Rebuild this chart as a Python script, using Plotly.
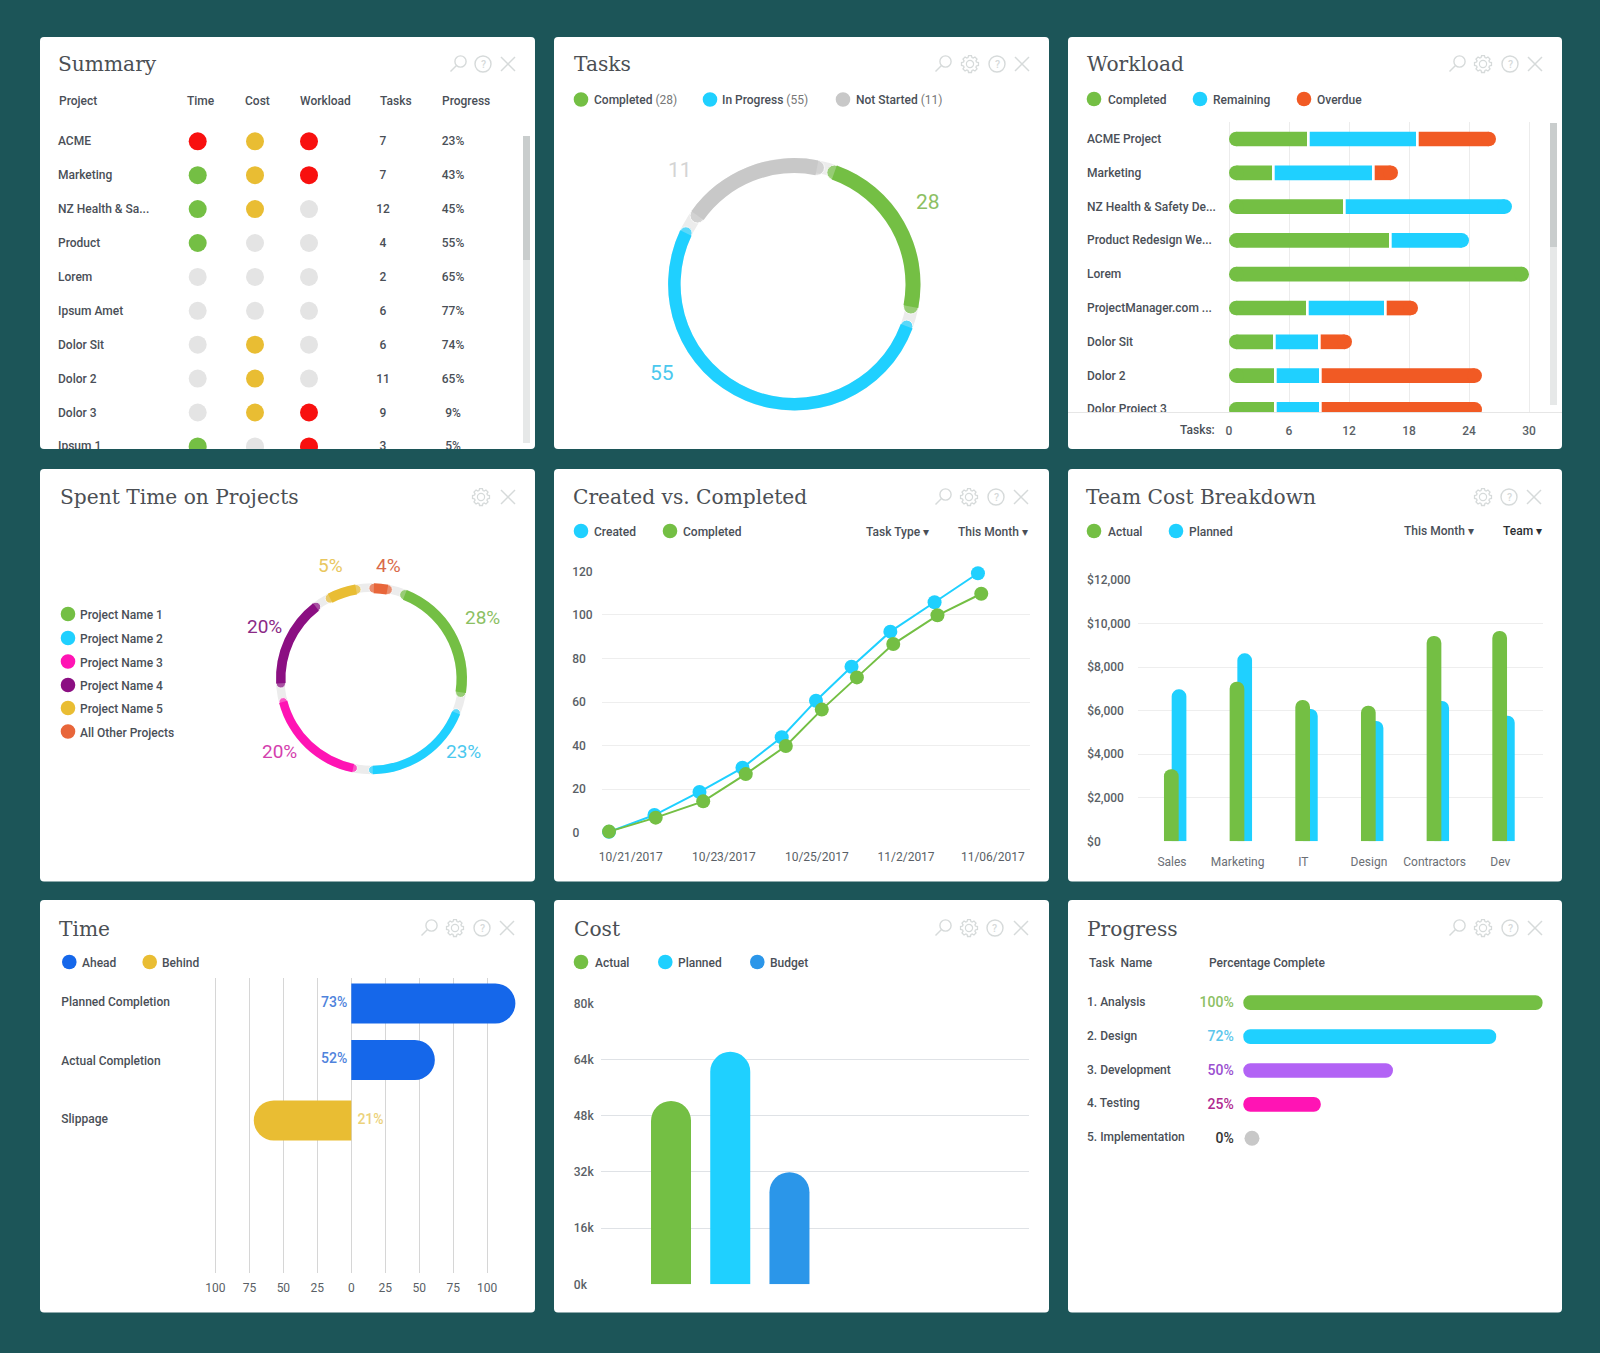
import math
import plotly.graph_objects as go

# ---------- data ----------
summary_projects = ["ACME", "Marketing", "NZ Health & Sa...", "Product", "Lorem", "Ipsum Amet",
                    "Dolor Sit", "Dolor 2", "Dolor 3", "Ipsum 1"]
summary_time = ["red", "green", "green", "green", "none", "none", "none", "none", "none", "green"]
summary_cost = ["yellow", "yellow", "yellow", "none", "none", "none", "yellow", "yellow", "yellow", "none"]
summary_workload = ["red", "red", "none", "none", "none", "none", "none", "none", "red", "red"]
summary_tasks = [7, 7, 12, 4, 2, 6, 6, 11, 9, 3]
summary_progress = ["23%", "43%", "45%", "55%", "65%", "77%", "74%", "65%", "9%", "5%"]

# the arcs drawn in the picture are not proportional to their labels, so spans are read as degrees
task_counts = [28, 55, 11]
task_names = ["Completed", "In Progress", "Not Started"]
task_arcs = [81.1, 184.8, 65.6]
task_gaps = [9.7, 10.1, 8.7]

workload_projects = ["ACME Project", "Marketing", "NZ Health & Safety De...", "Product Redesign We...", "Lorem",
                     "ProjectManager.com ...", "Dolor Sit", "Dolor 2", "Dolor Project 3"]
workload_completed = [7.8, 4.3, 11.4, 16.0, 30.0, 7.7, 4.4, 4.5, 4.5]
workload_remaining = [10.9, 10.0, 16.9, 8.0, 0.0, 7.8, 4.5, 4.5, 4.5]
workload_overdue = [8.0, 2.6, 0.0, 0.0, 0.0, 3.4, 3.4, 16.3, 16.3]

spent_names = ["Project Name 1", "Project Name 2", "Project Name 3", "Project Name 4", "Project Name 5",
               "All Other Projects"]
spent_labels = ["28%", "23%", "20%", "20%", "5%", "4%"]
spent_arcs = [76.9, 67.2, 63.7, 55.2, 17.4, 8.6]
spent_gaps = [13.4, 12.4, 11.8, 10.5, 11.3, 11.6]

created_x = [0, 1.10, 2.19, 3.23, 4.18, 5.01, 5.87, 6.81, 7.88, 8.93]
created_y = [0.4, 8.1, 18.7, 29.8, 43.8, 60.6, 76.2, 92.3, 105.8, 119.1]
completed_x = [0, 1.13, 2.28, 3.31, 4.28, 5.15, 6.00, 6.88, 7.95, 9.01]
completed_y = [0.5, 6.9, 14.4, 26.9, 39.8, 56.5, 71.3, 86.6, 99.8, 109.7]
date_tick_pos = [0.525, 2.78, 5.03, 7.19, 9.29]
date_tick_labels = ["10/21/2017", "10/23/2017", "10/25/2017", "11/2/2017", "11/06/2017"]
created_ticks = [0, 20, 40, 60, 80, 100, 120]

team_categories = ["Sales", "Marketing", "IT", "Design", "Contractors", "Dev"]
team_actual = [3306, 7331, 6489, 6229, 9428, 9657]
team_planned = [6979, 8632, 6076, 5525, 6443, 5770]
team_ticks = [0, 2000, 4000, 6000, 8000, 10000, 12000]

time_rows = ["Planned Completion", "Actual Completion", "Slippage"]
time_labels = ["73%", "52%", "21%"]
time_bars = [120.8, 61.5, -71.8]
time_bar_rows = [0.02, 0.99, 2.03]
time_ticks = [-100, -75, -50, -25, 0, 25, 50, 75, 100]

cost_categories = ["Actual", "Planned", "Budget"]
cost_values = [52.2, 66.2, 31.9]
cost_ticks = [0, 16, 32, 48, 64, 80]

progress_tasks = ["1. Analysis", "2. Design", "3. Development", "4. Testing", "5. Implementation"]
progress_labels = ["100%", "72%", "50%", "25%", "0%"]
progress_bars = [100, 84.5, 50, 25.9, 0]

# ---------- styling ----------
W, H = 1600, 1353
BG = "#1c5558"
GREEN, CYAN, ORANGE, RED, YELLOW = "#74bf44", "#1fd0ff", "#f15a24", "#f8100f", "#e9bd33"
GREY, LIGHT, PINK, PURPLE, OTHER = "#c8c8c8", "#e4e4e4", "#ff14b4", "#8b0f82", "#e8663a"
BLUE, BUDGET, VIOLET = "#1567ea", "#2b96e9", "#b263f5"
TXT = "#4a4f57"
ICON = "#d6dada"
FS = "\u2007"
BODY = "Roboto"
SLAB = "DejaVu Serif"
STATUS = {"red": RED, "green": GREEN, "yellow": YELLOW, "none": LIGHT}

shapes, annotations, layout = [], [], {}
fig = go.Figure()


def px(x, y):
    return f"{x / W:.5f},{1 - y / H:.5f}"


def panel(x0, y0, x1, y1, r=4):
    path = (f"M {px(x0 + r, y0)} L {px(x1 - r, y0)} Q {px(x1, y0)} {px(x1, y0 + r)} "
            f"L {px(x1, y1 - r)} Q {px(x1, y1)} {px(x1 - r, y1)} L {px(x0 + r, y1)} "
            f"Q {px(x0, y1)} {px(x0, y1 - r)} L {px(x0, y0 + r)} Q {px(x0, y0)} {px(x0 + r, y0)} Z")
    shapes.append(dict(type="path", layer="below", xref="paper", yref="paper", path=path, fillcolor="white",
                       line_width=0))


def circle(cx, cy, r, fill=None, line=None, lw=0):
    shapes.append(dict(type="circle", layer="below", xref="paper", yref="paper", x0=(cx - r) / W, x1=(cx + r) / W,
                       y0=1 - (cy + r) / H, y1=1 - (cy - r) / H, fillcolor=fill or "rgba(0,0,0,0)",
                       line=dict(color=line or "rgba(0,0,0,0)", width=lw)))


def seg(x0, y0, x1, y1, color=ICON, lw=1.4):
    shapes.append(dict(type="line", layer="below", xref="paper", yref="paper", x0=x0 / W, x1=x1 / W, y0=1 - y0 / H,
                       y1=1 - y1 / H, line=dict(color=color, width=lw)))


def rect(x0, y0, x1, y1, color):
    shapes.append(dict(type="rect", layer="below", xref="paper", yref="paper", x0=x0 / W, x1=x1 / W, y0=1 - y1 / H,
                       y1=1 - y0 / H, fillcolor=color, line_width=0))


def text(x, y, s, anchor="left", size=12, color=TXT, weight=500, family=BODY):
    annotations.append(dict(xref="paper", yref="paper", x=x / W, y=1 - (y + 1) / H, text=s, showarrow=False,
                            xanchor=anchor, yanchor="middle", borderpad=0,
                            font=dict(family=family, size=size, color=color, weight=weight)))


def title(x, y, s):
    text(x - 1.5, y, s, size=20.2, color="#4b4f54", weight=400, family=SLAB)


def legend(x, y, color, tx, s):
    circle(x, y, 7.3, fill=color)
    text(tx, y, s)


def magnifier(x, y):
    circle(x + 2.5, y - 2.5, 5.6, line=ICON, lw=1.4)
    seg(x - 1.5, y + 1.5, x - 7.5, y + 7.5)


def gear(x, y):
    pts = []
    for k in range(8):
        a = k * math.pi / 4
        for da, r in ((-0.30, 6.7), (-0.17, 8.6), (0.17, 8.6), (0.30, 6.7)):
            pts.append(px(x + r * math.sin(a + da), y - r * math.cos(a + da)))
    shapes.append(dict(type="path", layer="below", xref="paper", yref="paper", path="M " + " L ".join(pts) + " Z",
                       line=dict(color=ICON, width=1.3), fillcolor="rgba(0,0,0,0)"))
    circle(x, y, 3.6, line=ICON, lw=1.2)


def question(x, y):
    circle(x, y, 8, line=ICON, lw=1.4)
    text(x, y - 1, "?", anchor="center", size=10.5, color=ICON)


def close(x, y):
    seg(x - 7, y - 7, x + 7, y + 7, lw=1.5)
    seg(x - 7, y + 7, x + 7, y - 7, lw=1.5)


def icons(y, mag=None, gr=None, qu=None, cl=None):
    if mag is not None:
        magnifier(mag, y)
    if gr is not None:
        gear(gr, y)
    if qu is not None:
        question(qu, y)
    if cl is not None:
        close(cl, y)


def cart(n, x0, x1, ytop, ybot, xr, yr, xopts=None, yopts=None):
    base = dict(showgrid=False, zeroline=False, showticklabels=False, ticks="", fixedrange=True, automargin=False)
    layout[f"xaxis{n}"] = {**base, "domain": [x0 / W, x1 / W], "range": xr, "anchor": f"y{n}", **(xopts or {})}
    layout[f"yaxis{n}"] = {**base, "domain": [1 - ybot / H, 1 - ytop / H], "range": yr, "anchor": f"x{n}",
                           **(yopts or {})}


def rows_range(ytop, ybot, y0, dy):
    return [(ybot - y0) / dy, (ytop - y0) / dy]


def tickfont(color="#5a5f66", weight=400):
    return dict(family=BODY, size=12, color=color, weight=weight)


def ring(n, cx, cy, outer, thicks, arcs, gaps, colors, start):
    track = min(thicks)
    circle(cx, cy, outer - track / 2, line="#ececec", lw=track)
    dom = dict(x=[(cx - outer) / W, (cx + outer) / W], y=[1 - (cy + outer) / H, 1 - (cy - outer) / H])
    layout[f"polar{n}"] = dict(domain=dom, bgcolor="rgba(0,0,0,0)",
                               radialaxis=dict(visible=False, range=[0, outer]),
                               angularaxis=dict(visible=False, direction="clockwise", rotation=90))
    th, rad, col, sz, a = [], [], [], [], start
    for arc, gap, c, t in zip(arcs, gaps, colors, thicks):
        th += [a, a + arc]
        rad += [outer - t / 2] * 2
        col += [c, c]
        sz += [t, t]
        a += arc + gap
    fig.add_trace(go.Scatterpolar(r=rad, theta=th, mode="markers", subplot=f"polar{n}",
                                  marker=dict(size=sz, color=col), hoverinfo="skip", cliponaxis=False))
    values = []
    for arc, gap in zip(arcs, gaps):
        values += [arc, gap]
    for k, (c, t) in enumerate(zip(colors, thicks)):
        slice_colors = ["rgba(0,0,0,0)"] * len(values)
        slice_colors[2 * k] = c
        fig.add_trace(go.Pie(values=values, sort=False, direction="clockwise", rotation=start, hole=(outer - t) / outer,
                             domain=dom, marker=dict(colors=slice_colors, line=dict(width=0)), textinfo="none",
                             hoverinfo="skip", showlegend=False))


# ---------- panels ----------
COLS = [(40, 535), (554, 1049), (1068, 1562)]
ROWS = [(37, 449), (469, 881.5), (900, 1312.5)]
for (ya, yb) in ROWS:
    for (xa, xb) in COLS:
        panel(xa, ya, xb, yb)

# ---------- Summary ----------
title(58, 63, "Summary")
icons(64, mag=458, qu=483, cl=508)
for x, s, a in [(58, "Project", "left"), (201, "Time", "center"), (257, "Cost", "center"),
                (325, "Workload", "center"), (396, "Tasks", "center"), (466, "Progress", "center")]:
    text(x, 100, s, anchor=a)
rect(523, 136, 530, 443, "#e6e8e8")
rect(523, 136, 530, 260, "#c9cdcd")
cart(1, 40, 522, 120, 449, [40, 522], rows_range(120, 449, 141.3, 33.9))
rows = list(range(len(summary_projects)))
text_rows = [r + 0.03 for r in rows]
for col_x, status in [(197.7, summary_time), (255, summary_cost), (309, summary_workload)]:
    fig.add_trace(go.Scatter(x=[col_x] * len(rows), y=rows, mode="markers", xaxis="x1", yaxis="y1", hoverinfo="skip",
                             marker=dict(size=18, color=[STATUS[s] for s in status])))
for col_x, vals, pos in [(58, summary_projects, "middle right"), (383, summary_tasks, "middle center"),
                         (453, summary_progress, "middle center")]:
    fig.add_trace(go.Scatter(x=[col_x] * len(rows), y=text_rows, mode="text", text=vals, textposition=pos, xaxis="x1",
                             yaxis="y1", hoverinfo="skip", textfont=dict(family=BODY, size=12, color=TXT, weight=500)))

# ---------- Tasks ----------
title(574, 63, "Tasks")
icons(64, mag=943, gr=970, qu=997, cl=1022)
for dx, tx, c, name, n in zip([581, 710, 843], [593, 721, 855], [GREEN, CYAN, GREY], task_names, task_counts):
    legend(dx, 99.5, c, tx, f'{name} <span style="color:#777;font-weight:400">({n})</span>')
ring("", 794.3, 284.3, 126.2, [15, 12.5, 15], task_arcs, task_gaps, [GREEN, CYAN, GREY], 19.7)
for (x, y), n, c in zip([(928, 201), (662, 372), (680, 169)], task_counts, ["#8cc063", "#4bc8ee", "#d4d4d4"]):
    text(x, y, str(n), anchor="center", size=21, color=c, weight=400)

# ---------- Workload ----------
title(1087, 63, "Workload")
icons(64, mag=1457, gr=1483, qu=1510, cl=1535)
legend(1094, 99, GREEN, 1107, "Completed")
legend(1200, 99, CYAN, 1212, "Remaining")
legend(1304, 99, ORANGE, 1316, "Overdue")
rect(1550, 123, 1557, 405, "#e6e8e8")
rect(1550, 123, 1557, 247, "#c9cdcd")
WL_GAP = 0.27
WL_PX = 14.7
WL_W = WL_PX / 33.8
WL_CAP = WL_PX / 2 / 10   # cap radius in axis units (the axis runs at 10 px per task)
wl_rows = list(range(len(workload_projects)))
cart(3, 1068, 1562, 122, 412, [-16.1, 33.3], rows_range(122, 412, 139, 33.8),
     xopts=dict(showgrid=True, gridcolor="#ececec", gridwidth=1, tickvals=[0, 6, 12, 18, 24, 30],
                showticklabels=True, tickfont=tickfont(weight=500), ticklabelstandoff=8,
                showline=True, linecolor="#e6e6e6", linewidth=1))
text(1216, 429, "Tasks:", anchor="right")


def hbar(x, base, y, color, xa, ya, width, radius=0):
    fig.add_trace(go.Bar(x=x, base=base, y=y, orientation="h", xaxis=xa, yaxis=ya, width=width, hoverinfo="skip",
                         marker=dict(color=color, line_width=0, cornerradius=radius)))


def caps(xs, ys, color):
    fig.add_trace(go.Scatter(x=xs, y=ys, mode="markers", xaxis="x3", yaxis="y3", hoverinfo="skip",
                             marker=dict(size=WL_PX, color=color, line_width=0)))


mid = [i for i in wl_rows if workload_remaining[i] > 0 and workload_overdue[i] > 0]
end = [i for i in wl_rows if workload_remaining[i] > 0 and workload_overdue[i] == 0]
alone = [i for i in wl_rows if workload_remaining[i] == 0 and workload_overdue[i] == 0]
# completed: round start always, round finish only when nothing follows it
green_len = [workload_completed[i] - WL_CAP - (WL_CAP if i in alone else 0) for i in wl_rows]
hbar(green_len, [WL_CAP] * len(wl_rows), wl_rows, GREEN, "x3", "y3", WL_W)
caps([WL_CAP] * len(wl_rows), wl_rows, GREEN)
caps([workload_completed[i] - WL_CAP for i in alone], alone, GREEN)
# remaining: square on the left, round on the right only when it ends the row
rem_start = [c + WL_GAP for c in workload_completed]
rem_len = [r - WL_GAP for r in workload_remaining]
hbar([rem_len[i] for i in mid], [rem_start[i] for i in mid], mid, CYAN, "x3", "y3", WL_W)
hbar([rem_len[i] - WL_CAP for i in end], [rem_start[i] for i in end], end, CYAN, "x3", "y3", WL_W)
caps([rem_start[i] + rem_len[i] - WL_CAP for i in end], end, CYAN)
# overdue: square on the left, round on the right
over_start = [c + r + WL_GAP for c, r in zip(workload_completed, workload_remaining)]
over_len = [o - WL_GAP for o in workload_overdue]
hbar([over_len[i] - WL_CAP for i in mid], [over_start[i] for i in mid], mid, ORANGE, "x3", "y3", WL_W)
caps([over_start[i] + over_len[i] - WL_CAP for i in mid], mid, ORANGE)
fig.add_trace(go.Scatter(x=[(1087 - 1229) / 10] * len(wl_rows), y=[r + 0.03 for r in wl_rows], text=workload_projects,
                         mode="text", textposition="middle right", xaxis="x3", yaxis="y3", hoverinfo="skip",
                         textfont=dict(family=BODY, size=12, color=TXT, weight=500)))

# ---------- Spent Time on Projects ----------
title(60, 496, "Spent Time on Projects")
icons(497, gr=481, cl=508)
spent_colors = [GREEN, CYAN, PINK, PURPLE, YELLOW, OTHER]
for y, name, c in zip([614, 638, 661.5, 685, 708, 731.5], spent_names, spent_colors):
    legend(68, y, c, 79, name)
ring("2", 371.5, 678.7, 95.5, [10.5, 8.5, 8.5, 9.5, 10, 10], spent_arcs, spent_gaps, spent_colors, 21.7)
for (x, y), s, c in zip([(482, 616), (464, 750), (279, 750), (264, 625), (330, 564), (388, 564)], spent_labels,
                        ["#8cc063", "#4bc8ee", "#d43fae", "#8b2a86", "#e9c75e", "#d9694a"]):
    text(x, y, s, anchor="center", size=19, color=c, weight=400)

# ---------- Created vs. Completed ----------
title(573, 496, "Created vs. Completed")
icons(497, mag=943, gr=969, qu=996, cl=1021)
legend(581, 531, CYAN, 593, "Created")
legend(670, 531, GREEN, 682, "Completed")
text(930, 531, "Task Type ▾", anchor="right")
text(1029, 531, "This Month ▾", anchor="right")
cart(5, 601.7, 1030, 571.3, 832.7, [-0.177, 10.19], [0, 120],
     xopts=dict(tickvals=date_tick_pos, ticktext=date_tick_labels, showticklabels=True, tickfont=tickfont(),
                ticklabelstandoff=15),
     yopts=dict(tickvals=created_ticks, ticktext=[str(v) + FS * (3 - len(str(v))) for v in created_ticks],
                showticklabels=True, showgrid=True, gridcolor="#eeeeee", tickfont=tickfont(weight=500),
                ticklabelstandoff=8))
for xs, ys, c in [(created_x, created_y, CYAN), (completed_x, completed_y, GREEN)]:
    fig.add_trace(go.Scatter(x=xs, y=ys, mode="lines+markers", xaxis="x5", yaxis="y5", hoverinfo="skip",
                             cliponaxis=False, line=dict(color=c, width=2), marker=dict(color=c, size=14)))

# ---------- Team Cost Breakdown ----------
title(1086, 496, "Team Cost Breakdown")
icons(497, gr=1483, qu=1509, cl=1534)
legend(1094, 531, GREEN, 1107, "Actual")
legend(1176, 531, CYAN, 1188, "Planned")
text(1475, 530, "This Month ▾", anchor="right")
text(1543, 530, "Team ▾", anchor="right", color="#2b2f33")
TEAM_SCALE = 65.66
team_labels = [f"${v:,}" for v in team_ticks]
team_padded = [team_labels[0] + FS * 4 + "\u00a0"] + [s + FS * (7 - len(s)) for s in team_labels[1:]]
cart(6, 1137.7, 1543, 580, 841.3, [-0.522, 5.65], [0, 12000],
     xopts=dict(type="category", categoryorder="array", categoryarray=team_categories, showticklabels=True,
                tickfont=tickfont("#6b6f75"), ticklabelstandoff=12),
     yopts=dict(tickvals=team_ticks, ticktext=team_padded, showticklabels=True, showgrid=True, gridcolor="#eeeeee",
                tickfont=tickfont(weight=500), ticklabelstandoff=6))
for vals, c, off in [(team_planned, CYAN, -0.3), (team_actual, GREEN, -8.0)]:
    fig.add_trace(go.Bar(x=team_categories, y=vals, xaxis="x6", yaxis="y6", width=14.7 / TEAM_SCALE,
                         offset=off / TEAM_SCALE, hoverinfo="skip", marker=dict(color=c, line_width=0, cornerradius=7.3)))

# ---------- Time ----------
title(59, 928, "Time")
icons(928, mag=429, gr=455, qu=482, cl=507)
legend(69.3, 962, BLUE, 81, "Ahead")
legend(149.7, 962, YELLOW, 161.3, "Behind")
T_SCALE = 33.96 / 25
cart(7, 40, 530, 977.7, 1273.3, [(40 - 351.3) / T_SCALE, (530 - 351.3) / T_SCALE],
     rows_range(977.7, 1273.3, 1002.3, 58.2),
     xopts=dict(tickvals=time_ticks, ticktext=[str(abs(v)) for v in time_ticks], showticklabels=True,
                showgrid=True, gridcolor="#d6d6d6", tickfont=tickfont(), ticklabelstandoff=6))
hbar([v for v in time_bars if v > 0], None, [r for r, v in zip(time_bar_rows, time_bars) if v > 0], BLUE, "x7", "y7",
     40 / 58.2, 20)
hbar([v for v in time_bars if v < 0], None, [r for r, v in zip(time_bar_rows, time_bars) if v < 0], YELLOW, "x7", "y7",
     40 / 58.2, 20)
fig.add_trace(go.Scatter(x=[(61.3 - 351.3) / T_SCALE] * 3, y=[0.02, 1.02, 2.02], text=time_rows, mode="text",
                         textposition="middle right", xaxis="x7", yaxis="y7", hoverinfo="skip",
                         textfont=dict(family=BODY, size=12, color=TXT, weight=500)))
for r, v, s in zip(time_bar_rows, time_bars, time_labels):
    fig.add_trace(go.Scatter(x=[-3 if v > 0 else 4.5], y=[r], text=[s], mode="text",
                             textposition="middle left" if v > 0 else "middle right",
                             xaxis="x7", yaxis="y7", hoverinfo="skip", cliponaxis=False,
                             textfont=dict(family=BODY, size=14, weight=500,
                                           color="#4f83dc" if v > 0 else "#ecd27a")))

# ---------- Cost ----------
title(574, 928, "Cost")
icons(928, mag=943, gr=969, qu=995, cl=1021)
legend(581, 962, GREEN, 593.7, "Actual")
legend(665.3, 962, CYAN, 676.7, "Planned")
legend(757.3, 962, BUDGET, 769, "Budget")
cart(8, 600.7, 1029.3, 1003.3, 1284.3, [-1.1875, 6.05], [0, 80],
     xopts=dict(type="category", categoryorder="array", categoryarray=cost_categories),
     yopts=dict(tickvals=cost_ticks, ticktext=[f"{v}k" + FS * (2 - len(str(v))) for v in cost_ticks],
                showticklabels=True, showgrid=True, gridcolor="#dfe2e6", tickfont=tickfont(weight=500),
                ticklabelstandoff=6))
fig.add_trace(go.Bar(x=cost_categories, y=cost_values, xaxis="x8", yaxis="y8", width=40 / 59.2, hoverinfo="skip",
                     marker=dict(color=[GREEN, CYAN, BUDGET], line_width=0, cornerradius=20)))

# ---------- Progress ----------
title(1087, 928, "Progress")
icons(928, mag=1457, gr=1483, qu=1510, cl=1535)
text(1088, 962, "Task&nbsp;&nbsp;Name")
text(1208.3, 962, "Percentage Complete")
P_SCALE = 2.993
cart(9, 1068, 1560, 985, 1300, [(1068 - 1243.3) / P_SCALE, (1560 - 1243.3) / P_SCALE],
     rows_range(985, 1300, 1002.7, 33.9))
p_rows = list(range(len(progress_tasks)))
p_colors = [GREEN, CYAN, VIOLET, PINK, GREY]
hbar(progress_bars, [0] * len(p_rows), p_rows, p_colors, "x9", "y9", 14.7 / 33.9, 7.3)
zero = [i for i in p_rows if progress_bars[i] == 0]
fig.add_trace(go.Scatter(x=[2.9] * len(zero), y=zero, mode="markers", xaxis="x9", yaxis="y9", hoverinfo="skip",
                         marker=dict(size=15, color=[p_colors[i] for i in zero])))
fig.add_trace(go.Scatter(x=[(1087 - 1243.3) / P_SCALE] * len(p_rows), y=p_rows, text=progress_tasks, mode="text",
                         textposition="middle right", xaxis="x9", yaxis="y9", hoverinfo="skip",
                         textfont=dict(family=BODY, size=12, color=TXT, weight=500)))
fig.add_trace(go.Scatter(x=[-3.2] * len(p_rows), y=[r + 0.03 for r in p_rows], text=progress_labels, mode="text",
                         textposition="middle left", xaxis="x9", yaxis="y9", hoverinfo="skip",
                         textfont=dict(family=BODY, size=14, weight=500,
                                       color=["#8cc063", "#5cc6ec", "#9a4fd0", "#b02a90", "#333333"])))

fig.update_layout(template="none", width=W, height=H, margin=dict(l=0, r=0, t=0, b=0, autoexpand=False),
                  paper_bgcolor=BG, plot_bgcolor="rgba(0,0,0,0)",
                  showlegend=False, barmode="overlay", font=dict(family=BODY, color=TXT), shapes=shapes,
                  annotations=annotations, hovermode=False, **layout)
fig.write_html("out.html", config=dict(displayModeBar=False),
               post_script="document.body.style.margin='0';document.body.style.overflow='hidden';")
